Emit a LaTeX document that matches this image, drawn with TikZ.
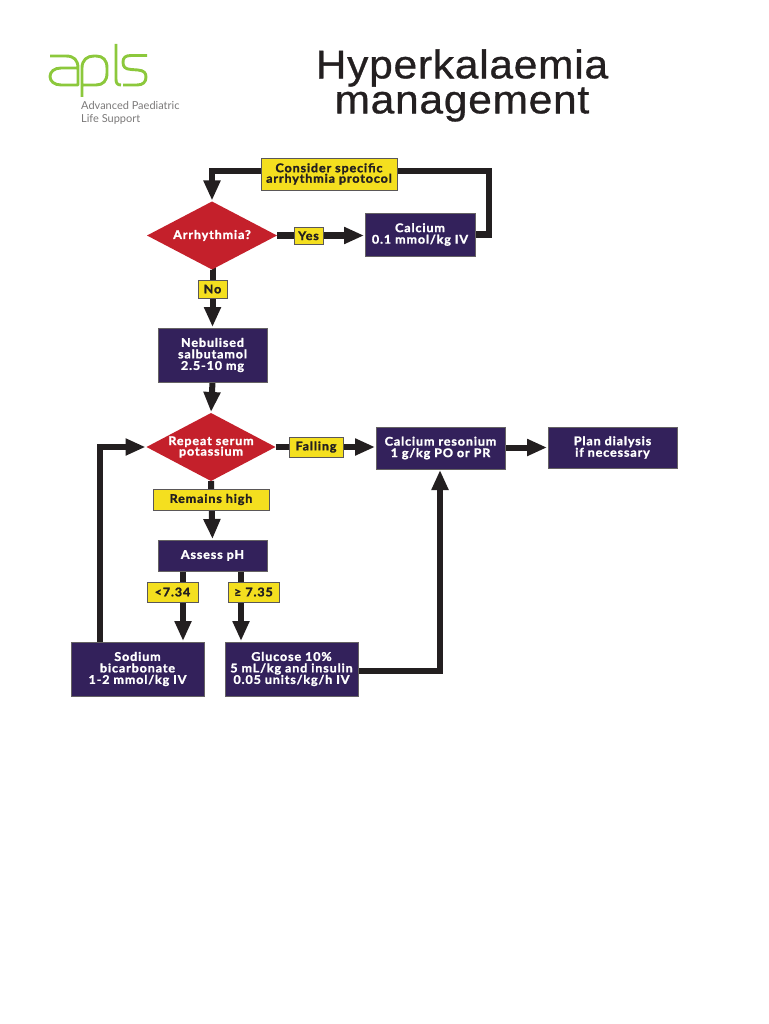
\documentclass[tikz,border=0pt]{standalone}
\usepackage{fontspec}
\usetikzlibrary{arrows.meta,shapes.geometric,backgrounds}
\setmainfont{Open Sans}
\newfontfamily\boxfont[LetterSpace=7,FakeBold=1.5,FakeStretch=1.05]{Lato Bold}
\newfontfamily\titlefont[FakeBold=0.8,LetterSpace=2,FakeStretch=1.06]{Liberation Sans}
\newfontfamily\logofont{Lato}
\definecolor{navy}{HTML}{33215B}
\definecolor{crimson}{HTML}{C4202B}
\definecolor{sun}{HTML}{F4DF1F}
\definecolor{ink}{HTML}{231F20}
\definecolor{lime}{HTML}{8CC83C}
\tikzset{
 x=1pt,y=-1pt,
 base/.style={inner sep=0pt,outer sep=0pt,align=center,font=\boxfont\fontsize{12}{11.5}\selectfont},
 treat/.style={base,rectangle,fill=navy,draw=ink!70,line width=.6pt,text=white},
 lab/.style={base,rectangle,fill=sun,draw=ink!75,line width=.8pt,text=ink},
 dec/.style={base,diamond,fill=crimson,text=white,minimum width=0pt},
 conn/.style={draw=ink,line width=6pt},
 flow/.style={conn,-{Triangle[length=20pt,width=16pt]},shorten >=1pt},
 logo/.style={draw=lime,line width=2.9pt,line cap=butt,line join=round},
}
\newcommand{\boxat}[7]{\node[#1,minimum width=#4 pt - #2 pt,minimum height=#5 pt - #3 pt] (#6) at ({(#2+#4)/2},{(#3+#5)/2}) {#7};}
\begin{document}
\begin{tikzpicture}
\useasboundingbox (0,0) rectangle (768,1024);
% title
\node[font=\titlefont\fontsize{40}{35}\selectfont,text=ink,inner sep=0pt,align=center] (title) at (462,85.5) {Hyperkalaemia\\management};
% logo
\draw[logo] (50,56) -- (66,56) .. controls (74,56) and (78,60) .. (78,68) -- (78,85) -- (61,85) .. controls (54,85) and (50,81) .. (50,76.5) .. controls (50,72) and (54,68) .. (61,68) -- (78,68);
\draw[logo] (82,97) -- (82,68) .. controls (82,60) and (87,56) .. (94,56) -- (96,56) .. controls (103,56) and (107,60) .. (107,68) -- (107,73) .. controls (107,81) and (103,85) .. (96,85) -- (82,85);
\draw[logo] (116,44) -- (116,79) .. controls (116,83) and (117,85) .. (121,85);
\draw[logo] (147,55.5) -- (131,55.5) .. controls (125,55.5) and (123,58) .. (123,62) .. controls (123,67) and (125,69) .. (131,69.5) -- (138,70) .. controls (144,70.5) and (146,73) .. (146,77) .. controls (146,82) and (143,85) .. (137,85) -- (123,85);
\node[font=\logofont\fontsize{11}{13}\selectfont,text=ink!60,inner sep=0pt,align=left,anchor=north west] (logotext) at (81,101.5) {Advanced Paediatric\\Life Support};
% nodes
\boxat{lab}{261}{158}{397}{190}{consider}{Consider specific\\[-1pt]arrhythmia protocol}
\boxat{treat}{365}{213}{475}{256}{calcium}{Calcium\\0.1 mmol/kg IV}
\node[dec,minimum width=130pt,minimum height=68pt,aspect=1.9] (arr) at (212,235.5) {Arrhythmia?};
\boxat{lab}{294}{227}{323}{244.5}{yes}{Yes}
\boxat{lab}{198}{280}{227}{298}{no}{No}
\boxat{treat}{158}{328}{267}{382}{neb}{Nebulised\\salbutamol\\2.5-10 mg}
\node[dec,minimum width=129pt,minimum height=68pt,aspect=1.9] (rep) at (211,447) {Repeat serum\\[-1pt]potassium};
\boxat{lab}{289}{437}{343}{457}{fall}{Falling}
\boxat{lab}{153}{489}{269}{510}{high}{Remains high}
\boxat{treat}{158}{540}{267}{571}{ph}{Assess pH}
\boxat{lab}{147}{582}{198}{602}{low}{<7.34}
\boxat{lab}{228}{582}{279}{602}{hi}{≥ 7.35}
\boxat{treat}{71}{642}{204}{696}{sod}{Sodium\\bicarbonate\\1-2 mmol/kg IV}
\boxat{treat}{225}{642}{358}{696}{glu}{Glucose 10\%\\5 mL/kg and insulin\\0.05 units/kg/h IV}
\boxat{treat}{376}{427}{505}{469}{res}{Calcium resonium\\1 g/kg PO or PR}
\boxat{treat}{548}{427}{677}{468}{plan}{Plan dialysis\\if necessary}
% helper coordinates
\coordinate (loopE) at (489,171);
\coordinate (lineL) at (183,0);
\coordinate (lineR) at (241,0);
\coordinate (lineS) at (100,0);
\coordinate (lineG) at (440,671);
\begin{scope}[on background layer]
\draw[conn] (calcium.east) -- (calcium.east -| loopE) -- (loopE) -- (consider.east |- loopE);
\draw[flow] (consider.west |- loopE) -- (arr.north |- loopE) -- (arr.north);
\draw[flow] (arr.east) -- (calcium.west |- arr.east);
\draw[flow] (arr.south) -- (arr.south -| neb.north) -- (neb.north);
\draw[flow] (neb.south) -- (rep.north);
\draw[flow] (rep.east) -- (res.west |- rep.east);
\draw[flow] (rep.south) -- (ph.north);
\draw[flow] (ph.south -| lineL) -- (sod.north -| lineL);
\draw[flow] (ph.south -| lineR) -- (glu.north -| lineR);
\draw[flow] (sod.north -| lineS) -- (rep.west -| lineS) -- (rep.west);
\draw[flow] (glu.east |- lineG) -- (lineG) -- (res.south -| lineG);
\draw[flow] (res.east |- plan.west) -- (plan.west);
\end{scope}
\end{tikzpicture}
\end{document}
